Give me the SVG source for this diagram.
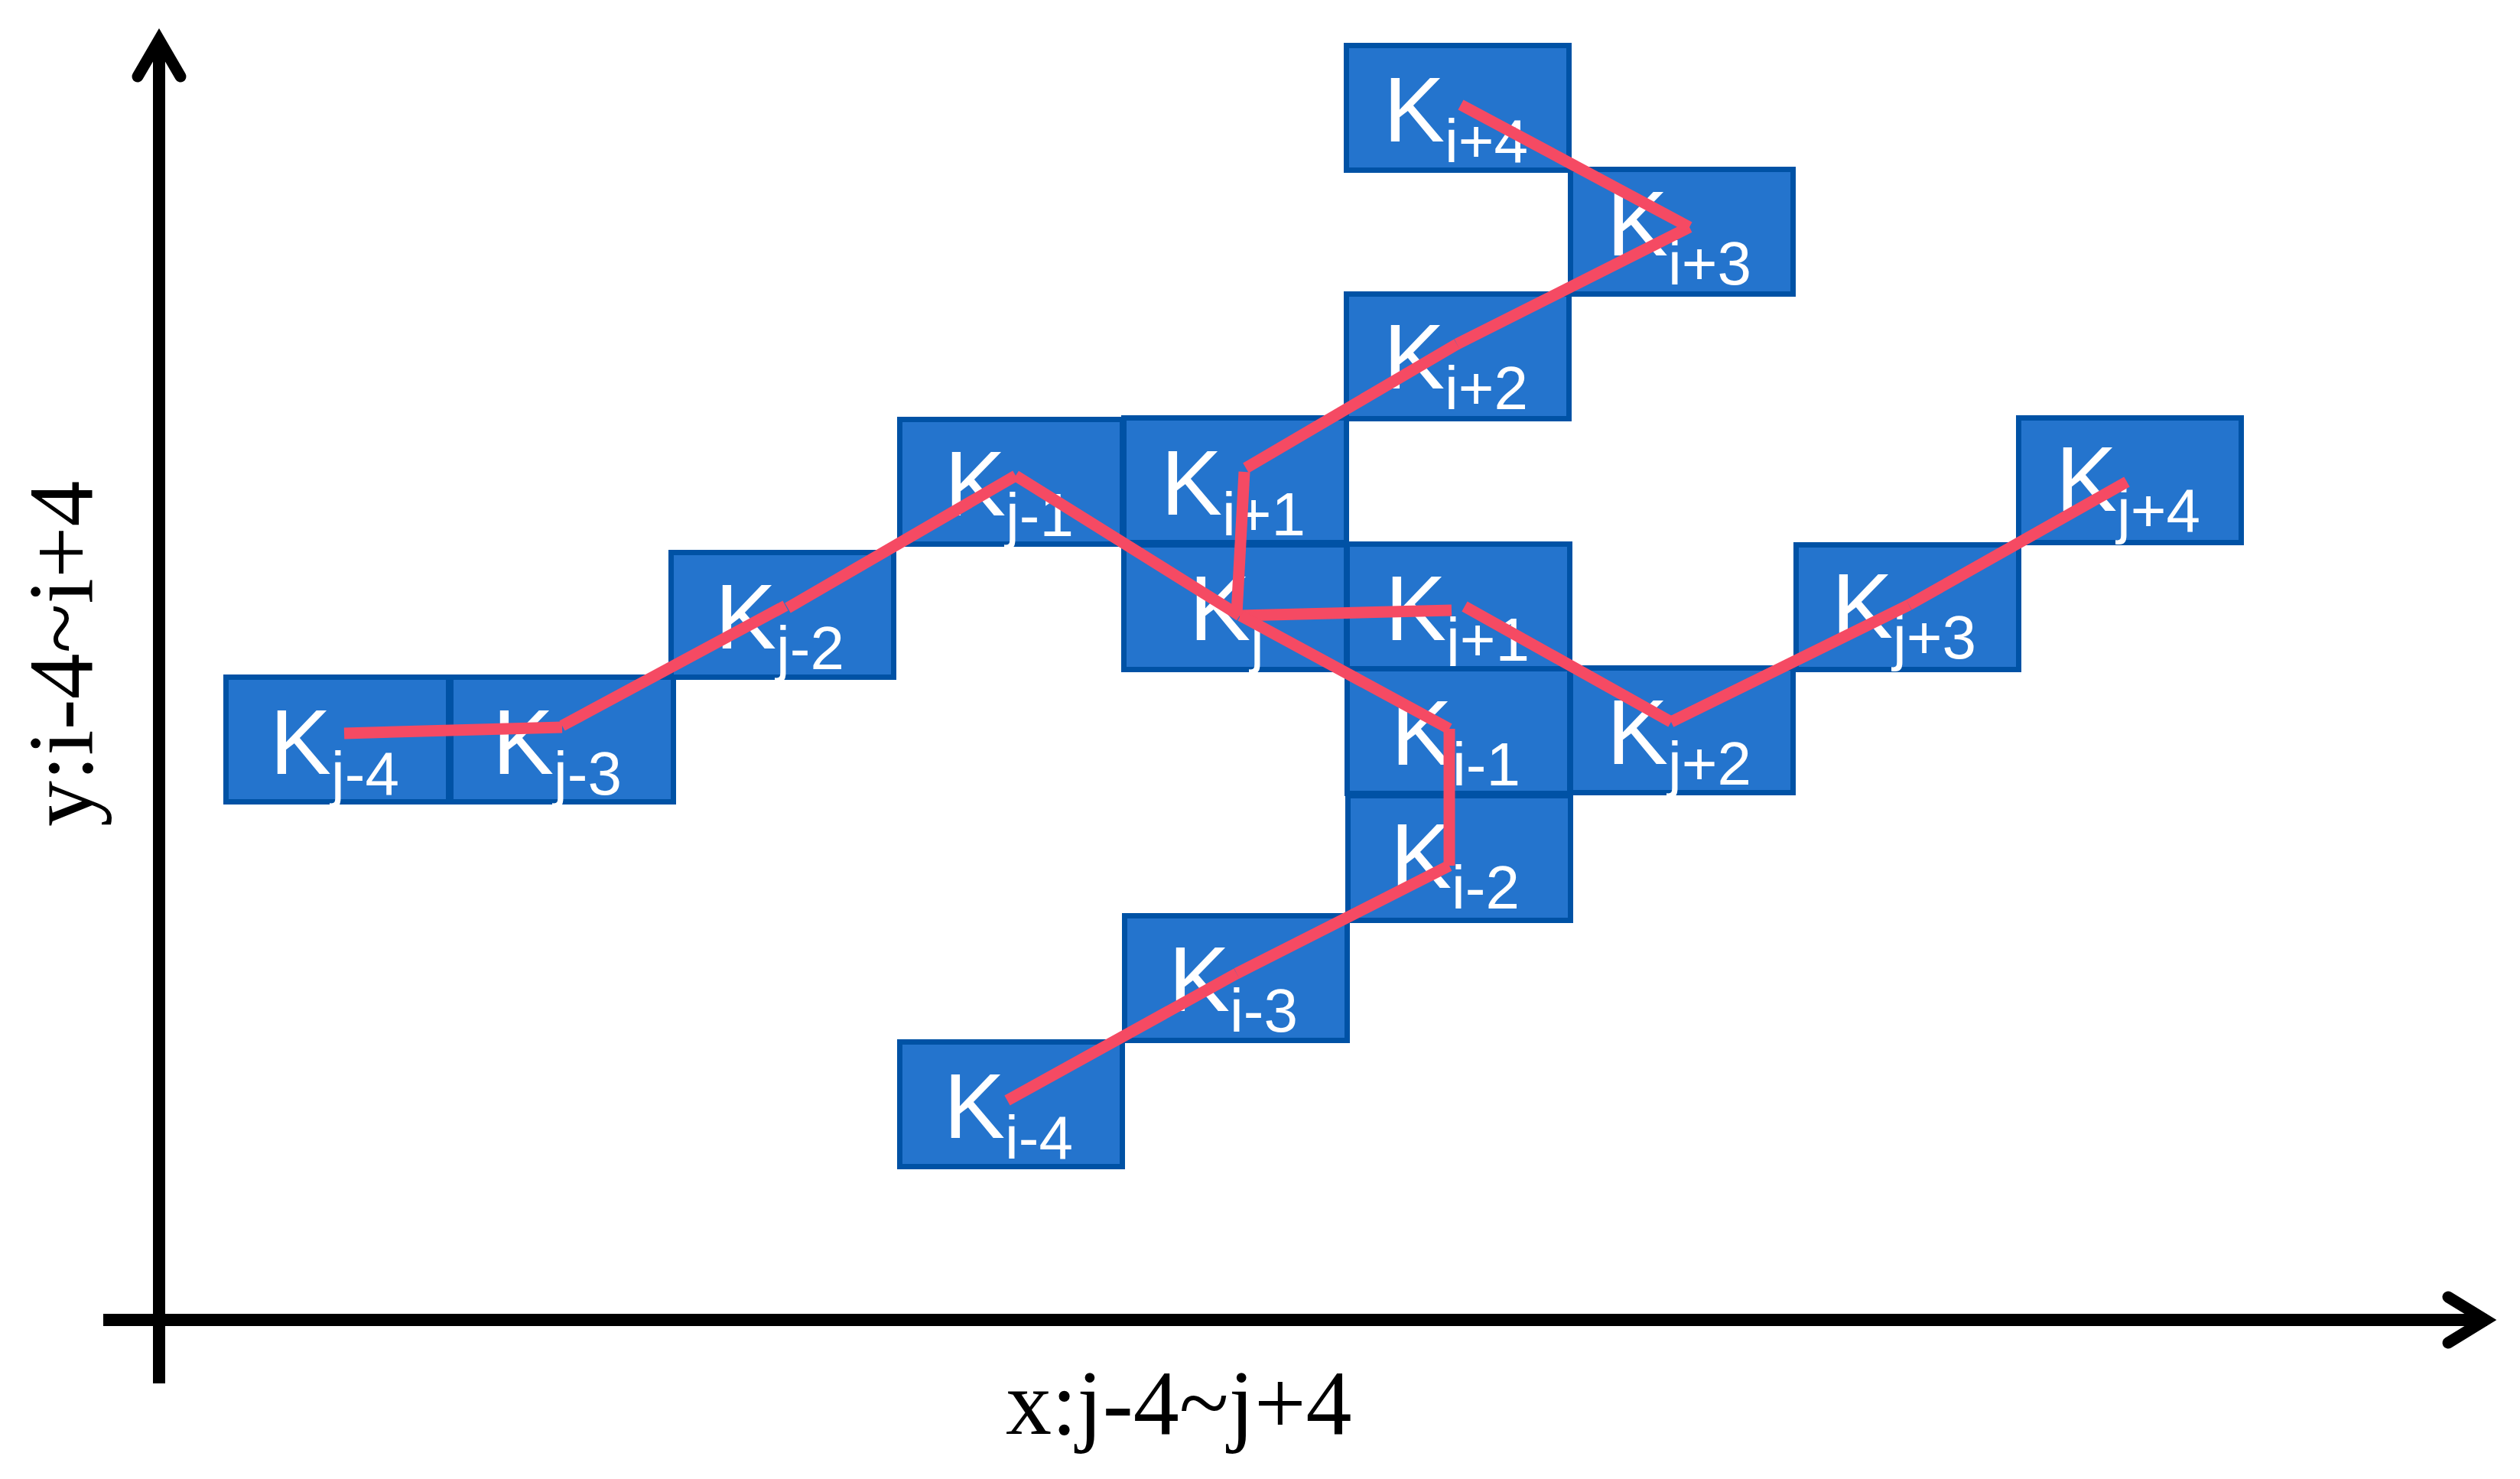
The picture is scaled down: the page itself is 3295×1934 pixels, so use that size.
<svg xmlns="http://www.w3.org/2000/svg" width="3295" height="1934" viewBox="0 0 3295 1934">
<style>
.box{fill:#2474CD;stroke:#0052A5;stroke-width:7}
.k{font-family:"Liberation Sans",Arial,sans-serif;font-size:120px;fill:#FFFFFF}
.sub{font-size:80px}
.red{stroke:#F54A63;stroke-width:15;stroke-linecap:butt;fill:none}
.axis{stroke:#000;stroke-width:16;fill:none}
.head{stroke:#000;stroke-width:15;fill:none;stroke-linecap:round;stroke-linejoin:miter}
.lbl{font-family:"Liberation Serif","Times New Roman",serif;font-size:120px;fill:#000}
</style>
<rect width="3295" height="1934" fill="#FFFFFF"/>
<g id="axes">
<line class="axis" x1="208" y1="1809" x2="208" y2="56"/>
<polyline class="head" points="180,100 208,52 236,100"/>
<line class="axis" x1="135" y1="1726" x2="3252" y2="1726"/>
<polyline class="head" points="3201,1696 3250,1726 3201,1756"/>
<text class="lbl" x="1315" y="1875">x:j-4~j+4</text>
<text class="lbl" transform="translate(120,1081) rotate(-90)" x="0" y="0">y:i-4~i+4</text>
</g>
<g id="node-j-4"><rect class="box" x="295.5" y="885.5" width="291" height="163"/><text class="k" x="353" y="1012">K<tspan class="sub" dy="27">j-4</tspan></text></g>
<g id="node-j-3"><rect class="box" x="589.5" y="885.5" width="291" height="163"/><text class="k" x="644" y="1012">K<tspan class="sub" dy="27">j-3</tspan></text></g>
<g id="node-j-2"><rect class="box" x="877.5" y="722.5" width="291" height="163"/><text class="k" x="935" y="848">K<tspan class="sub" dy="27">j-2</tspan></text></g>
<g id="node-j-1"><rect class="box" x="1176.5" y="548.5" width="291" height="163"/><text class="k" x="1235" y="674">K<tspan class="sub" dy="27">j-1</tspan></text></g>
<g id="node-i+1"><rect class="box" x="1469.5" y="546.5" width="291" height="163"/><text class="k" x="1518" y="673">K<tspan class="sub" dy="27">i+1</tspan></text></g>
<g id="node-j"><rect class="box" x="1469.5" y="712.5" width="291" height="163"/><text class="k" x="1555" y="837">K<tspan class="sub" dy="27">j</tspan></text></g>
<g id="node-j+1"><rect class="box" x="1761.5" y="711.5" width="291" height="163"/><text class="k" x="1811" y="837">K<tspan class="sub" dy="27">j+1</tspan></text></g>
<g id="node-i-1"><rect class="box" x="1761.5" y="874.5" width="291" height="163"/><text class="k" x="1819" y="1000">K<tspan class="sub" dy="27">i-1</tspan></text></g>
<g id="node-j+2"><rect class="box" x="2053.5" y="873.5" width="291" height="163"/><text class="k" x="2101" y="999">K<tspan class="sub" dy="27">j+2</tspan></text></g>
<g id="node-j+3"><rect class="box" x="2348.5" y="712.5" width="291" height="163"/><text class="k" x="2395" y="834">K<tspan class="sub" dy="27">j+3</tspan></text></g>
<g id="node-j+4"><rect class="box" x="2639.5" y="546.5" width="291" height="163"/><text class="k" x="2688" y="668">K<tspan class="sub" dy="27">j+4</tspan></text></g>
<g id="node-i+4"><rect class="box" x="1760.5" y="59.5" width="291" height="163"/><text class="k" x="1809" y="185">K<tspan class="sub" dy="27">i+4</tspan></text></g>
<g id="node-i+3"><rect class="box" x="2053.5" y="221.5" width="291" height="163"/><text class="k" x="2101" y="334">K<tspan class="sub" dy="38">i+3</tspan></text></g>
<g id="node-i+2"><rect class="box" x="1760.5" y="384.5" width="291" height="163"/><text class="k" x="1809" y="508">K<tspan class="sub" dy="27">i+2</tspan></text></g>
<g id="node-i-2"><rect class="box" x="1762.5" y="1040.5" width="291" height="163"/><text class="k" x="1818" y="1161">K<tspan class="sub" dy="27">i-2</tspan></text></g>
<g id="node-i-3"><rect class="box" x="1470.5" y="1197.5" width="291" height="163"/><text class="k" x="1528" y="1322">K<tspan class="sub" dy="27">i-3</tspan></text></g>
<g id="node-i-4"><rect class="box" x="1176.5" y="1362.5" width="291" height="163"/><text class="k" x="1234" y="1488">K<tspan class="sub" dy="27">i-4</tspan></text></g>
<g id="connectors">
<line class="red" x1="450" y1="959" x2="735" y2="951"/>
<line class="red" x1="735" y1="949" x2="1027" y2="792"/>
<line class="red" x1="1030" y1="795" x2="1328" y2="622"/>
<line class="red" x1="1328" y1="622" x2="1621" y2="805"/>
<line class="red" x1="1621" y1="805" x2="1898" y2="798"/>
<line class="red" x1="1915" y1="793" x2="2185" y2="944"/>
<line class="red" x1="2185" y1="944" x2="2496" y2="791"/>
<line class="red" x1="2496" y1="791" x2="2781" y2="630"/>
<line class="red" x1="1317" y1="1439" x2="1617" y2="1273"/>
<line class="red" x1="1617" y1="1273" x2="1895" y2="1132"/>
<line class="red" x1="1895" y1="1132" x2="1895" y2="953"/>
<line class="red" x1="1895" y1="953" x2="1622" y2="805"/>
<line class="red" x1="1617" y1="803" x2="1627" y2="617"/>
<line class="red" x1="1629" y1="612" x2="1905" y2="450"/>
<line class="red" x1="1905" y1="450" x2="2209" y2="297"/>
<line class="red" x1="2209" y1="297" x2="1910" y2="137"/>
</g>
</svg>
